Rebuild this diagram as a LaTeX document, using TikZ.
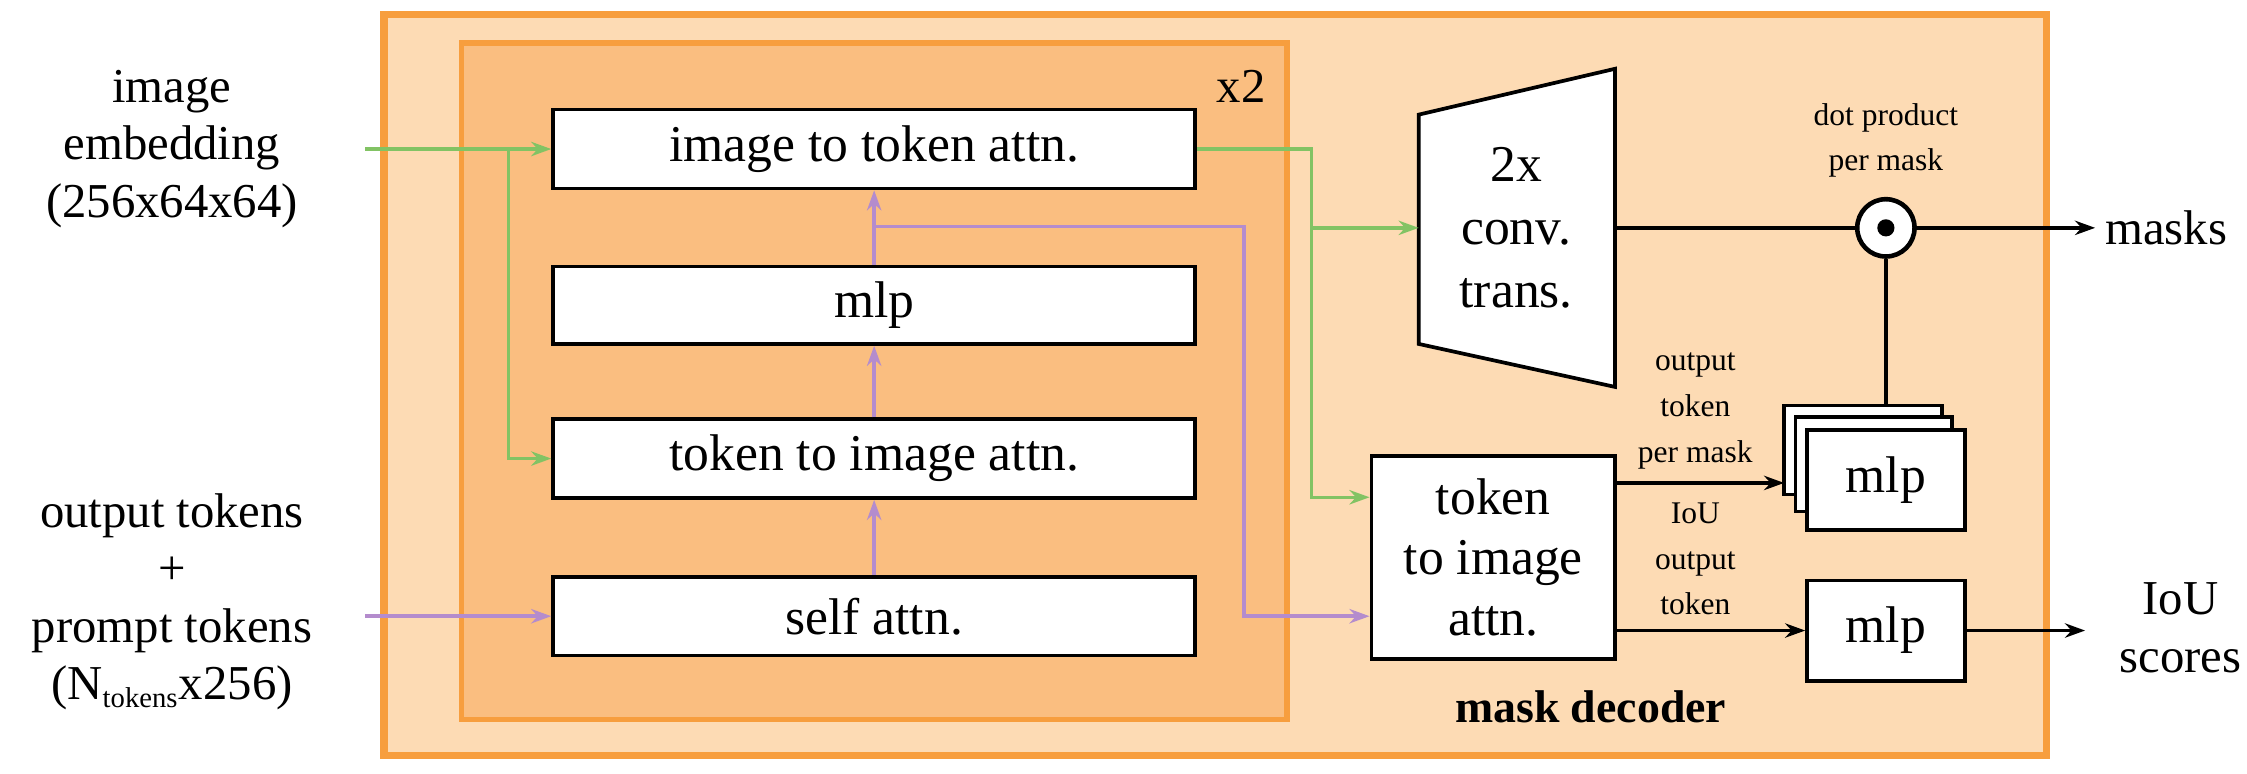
\documentclass[tikz,border=0pt]{standalone}
\usepackage{fontspec}
\setmainfont{Liberation Serif}
\usetikzlibrary{arrows.meta}
\definecolor{ob}{RGB}{247,158,62}
\definecolor{lo}{RGB}{253,219,180}
\definecolor{mo}{RGB}{250,190,128}
\definecolor{gr}{RGB}{130,195,100}
\definecolor{pu}{RGB}{180,140,205}
\begin{document}
\begin{tikzpicture}[x=0.5pt,y=-0.5pt,
 box/.style={draw=black,line width=1.3pt,fill=white,font=\fontsize{18}{20}\selectfont},
 lab/.style={align=center,font=\fontsize{17}{20}\selectfont},
 sm/.style={align=center,font=\fontsize{11}{16}\selectfont},
 ar/.style={-{Stealth[length=7pt,width=5pt]},line width=1.2pt},
 g/.style={draw=gr,line width=1.5pt}, p/.style={draw=pu,line width=1.5pt}, k/.style={draw=black,line width=1.4pt}]
\useasboundingbox (0,0) rectangle (1568,540);
\draw[draw=ob,fill=lo,line width=2.5pt] (268,10) rectangle (1428,527);
\draw[draw=ob,fill=mo,line width=2pt] (322,30) rectangle (898,502);
\node[font=\fontsize{17}{20}\selectfont] (x2) at (866,60) {x2};
\node[box,minimum width=224pt,minimum height=27.5pt] (ita) at (610,104) {image to token attn.};
\node[box,minimum width=224pt,minimum height=27pt] (mlp) at (610,213) {mlp};
\node[box,minimum width=224pt,minimum height=27.5pt] (tia) at (610,320) {token to image attn.};
\node[box,minimum width=224pt,minimum height=27.5pt] (sa) at (610,430) {self attn.};
\node[lab] (ie) at (120,104) {image\\embedding\\(256x64x64)};
\node[lab] (ot) at (120,420) {output tokens\\+\\prompt tokens\\(N\textsubscript{\fontsize{10}{10}\selectfont tokens}x256)};
% trapezoid
\draw[line width=1.3pt,fill=white] (990,80) -- (1127,48) -- (1127,270) -- (990,240) -- cycle;
\node[lab,align=center,font=\fontsize{18}{22}\selectfont] (ct) at (1058,159) {2x\\conv.\\trans.};
\coordinate (trL) at (990,159); \coordinate (trR) at (1127,159);
\node[draw,line width=1.6pt,fill=white,circle,minimum size=20pt,inner sep=0pt] (dot) at (1316,159) {};
\fill (dot) circle (3pt);
\node[sm] (dp) at (1316,98) {dot product\\per mask};
\node[lab,anchor=west] (masks) at (1462,159) {masks};
\node[box,minimum width=85pt,minimum height=71pt,align=center,font=\fontsize{18}{21}\selectfont] (t2) at (1042,389) {token\\to image\\attn.};
\draw[line width=1.3pt,fill=white] (1245,283) rectangle (1355,345);
\draw[line width=1.3pt,fill=white] (1253,291) rectangle (1362,357);
\node[box,minimum width=55pt,minimum height=35pt] (m1) at (1316,335) {mlp};
\node[box,minimum width=55pt,minimum height=35pt] (m2) at (1316,440) {mlp};
\node[sm] (l1) at (1183,287) {output\\token\\per mask};
\node[sm] (l2) at (1183,390) {IoU\\output\\token};
\node[lab,anchor=west] (iou) at (1472,438) {IoU\\scores};
\node[font=\bfseries\fontsize{16}{20}\selectfont] (md) at (1110,493) {mask decoder};
% green
\draw[g,ar] (255,104) -- (ita.west);
\draw[g,ar] (355,104) -- (355,320) -- (tia.west);
\draw[g,ar] (ita.east) -- (915,104) -- (915,159) -- (trL);
\draw[g,ar] (915,159) -- (915,347) -- (t2.west|-0,347);
% purple
\draw[p,ar] (255,430) -- (sa.west);
\draw[p,ar] (sa.north) -- (tia.south);
\draw[p,ar] (tia.north) -- (mlp.south);
\draw[p,ar] (mlp.north) -- (ita.south);
\draw[p,ar] (610,158) -- (868,158) -- (868,430) -- (t2.west|-0,430);
% black
\draw[k] (trR) -- (dot);
\draw[k,ar] (dot) -- (masks.west);
\draw[k] (1316,283) -- (dot);
\draw[k,ar] (t2.east|-0,337) -- (1245,337);
\draw[k,ar] (t2.east|-0,440) -- (m2.west);
\draw[k,ar] (m2.east) -- (1455,440);
\end{tikzpicture}
\end{document}
